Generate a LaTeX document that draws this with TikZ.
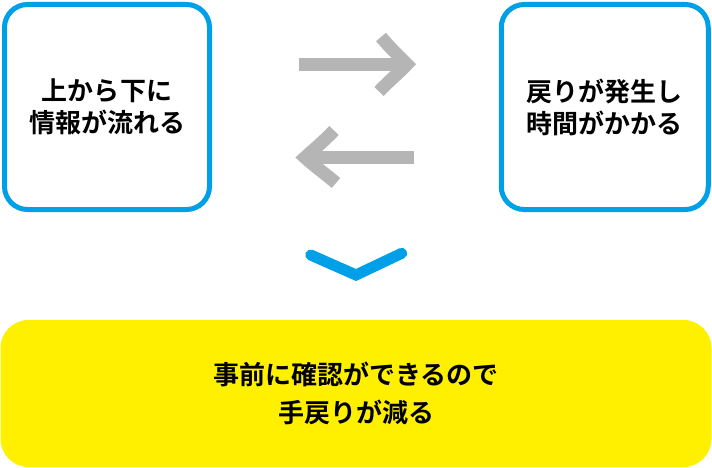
\documentclass[tikz,border=0pt]{standalone}
\usepackage{fontspec}
\newfontfamily\jp{Noto Sans CJK JP}[BoldFont={Noto Sans CJK JP Bold}]
\definecolor{boxblue}{HTML}{00A0E9}
\definecolor{arrgray}{HTML}{B5B5B5}
\definecolor{sunyellow}{HTML}{FFF000}
\begin{document}
\begin{tikzpicture}[x=1pt,y=-1pt,
  bluebox/.style={draw=boxblue,line width=5pt,rounded corners=23pt,fill=white,
    minimum height=205pt,inner sep=0pt,align=center,
    font=\jp\bfseries\fontsize{26}{32}\selectfont},
  yellowbox/.style={fill=sunyellow,rounded corners=28pt,minimum width=711pt,
    minimum height=147pt,inner sep=0pt,align=center,
    font=\jp\bfseries\fontsize{26}{37.5}\selectfont},
  shaft/.style={draw=arrgray,line width=13pt,line cap=butt},
  head/.style={draw=arrgray,line width=13pt,line cap=butt,line join=miter,miter limit=10},
  chev/.style={draw=boxblue,line width=11pt,line cap=round,line join=miter}]
\useasboundingbox (0,0) rectangle (712,468);
\node[bluebox,minimum width=205pt] (left) at (107,107) {上から下に\\情報が流れる};
\node[bluebox,minimum width=207pt] (right) at (604.75,107) {戻りが発生し\\時間がかかる};
\node[yellowbox] (bottom) at (356,393.5) {事前に確認ができるので\\手戻りが減る};
% right arrow
\coordinate (r1) at (299,64.3);
\coordinate (r2) at (404,64.3);
\coordinate (rtip) at (407,64.3);
\coordinate (rup) at (381,37);
\coordinate (rdn) at (379,91.5);
\draw[shaft] (r1) -- (r2);
\draw[head] (rup) .. controls (392,50) and (400,57) .. (rtip) .. controls (400,72) and (391,79) .. (rdn);
% left arrow
\coordinate (l1) at (414,157.5);
\coordinate (l2) at (309,157.5);
\coordinate (ltip) at (305,157.5);
\coordinate (lup) at (334,130.5);
\coordinate (ldn) at (336,183);
\draw[shaft] (l1) -- (l2);
\draw[head] (lup) .. controls (322,143) and (313,150) .. (ltip) .. controls (313,165) and (323,172) .. (ldn);
% down chevron
\coordinate (c1) at (310.7,255);
\coordinate (c2) at (356,275);
\coordinate (c3) at (401.7,253.3);
\draw[chev] (c1) -- (c2) -- (c3);
\end{tikzpicture}
\end{document}
